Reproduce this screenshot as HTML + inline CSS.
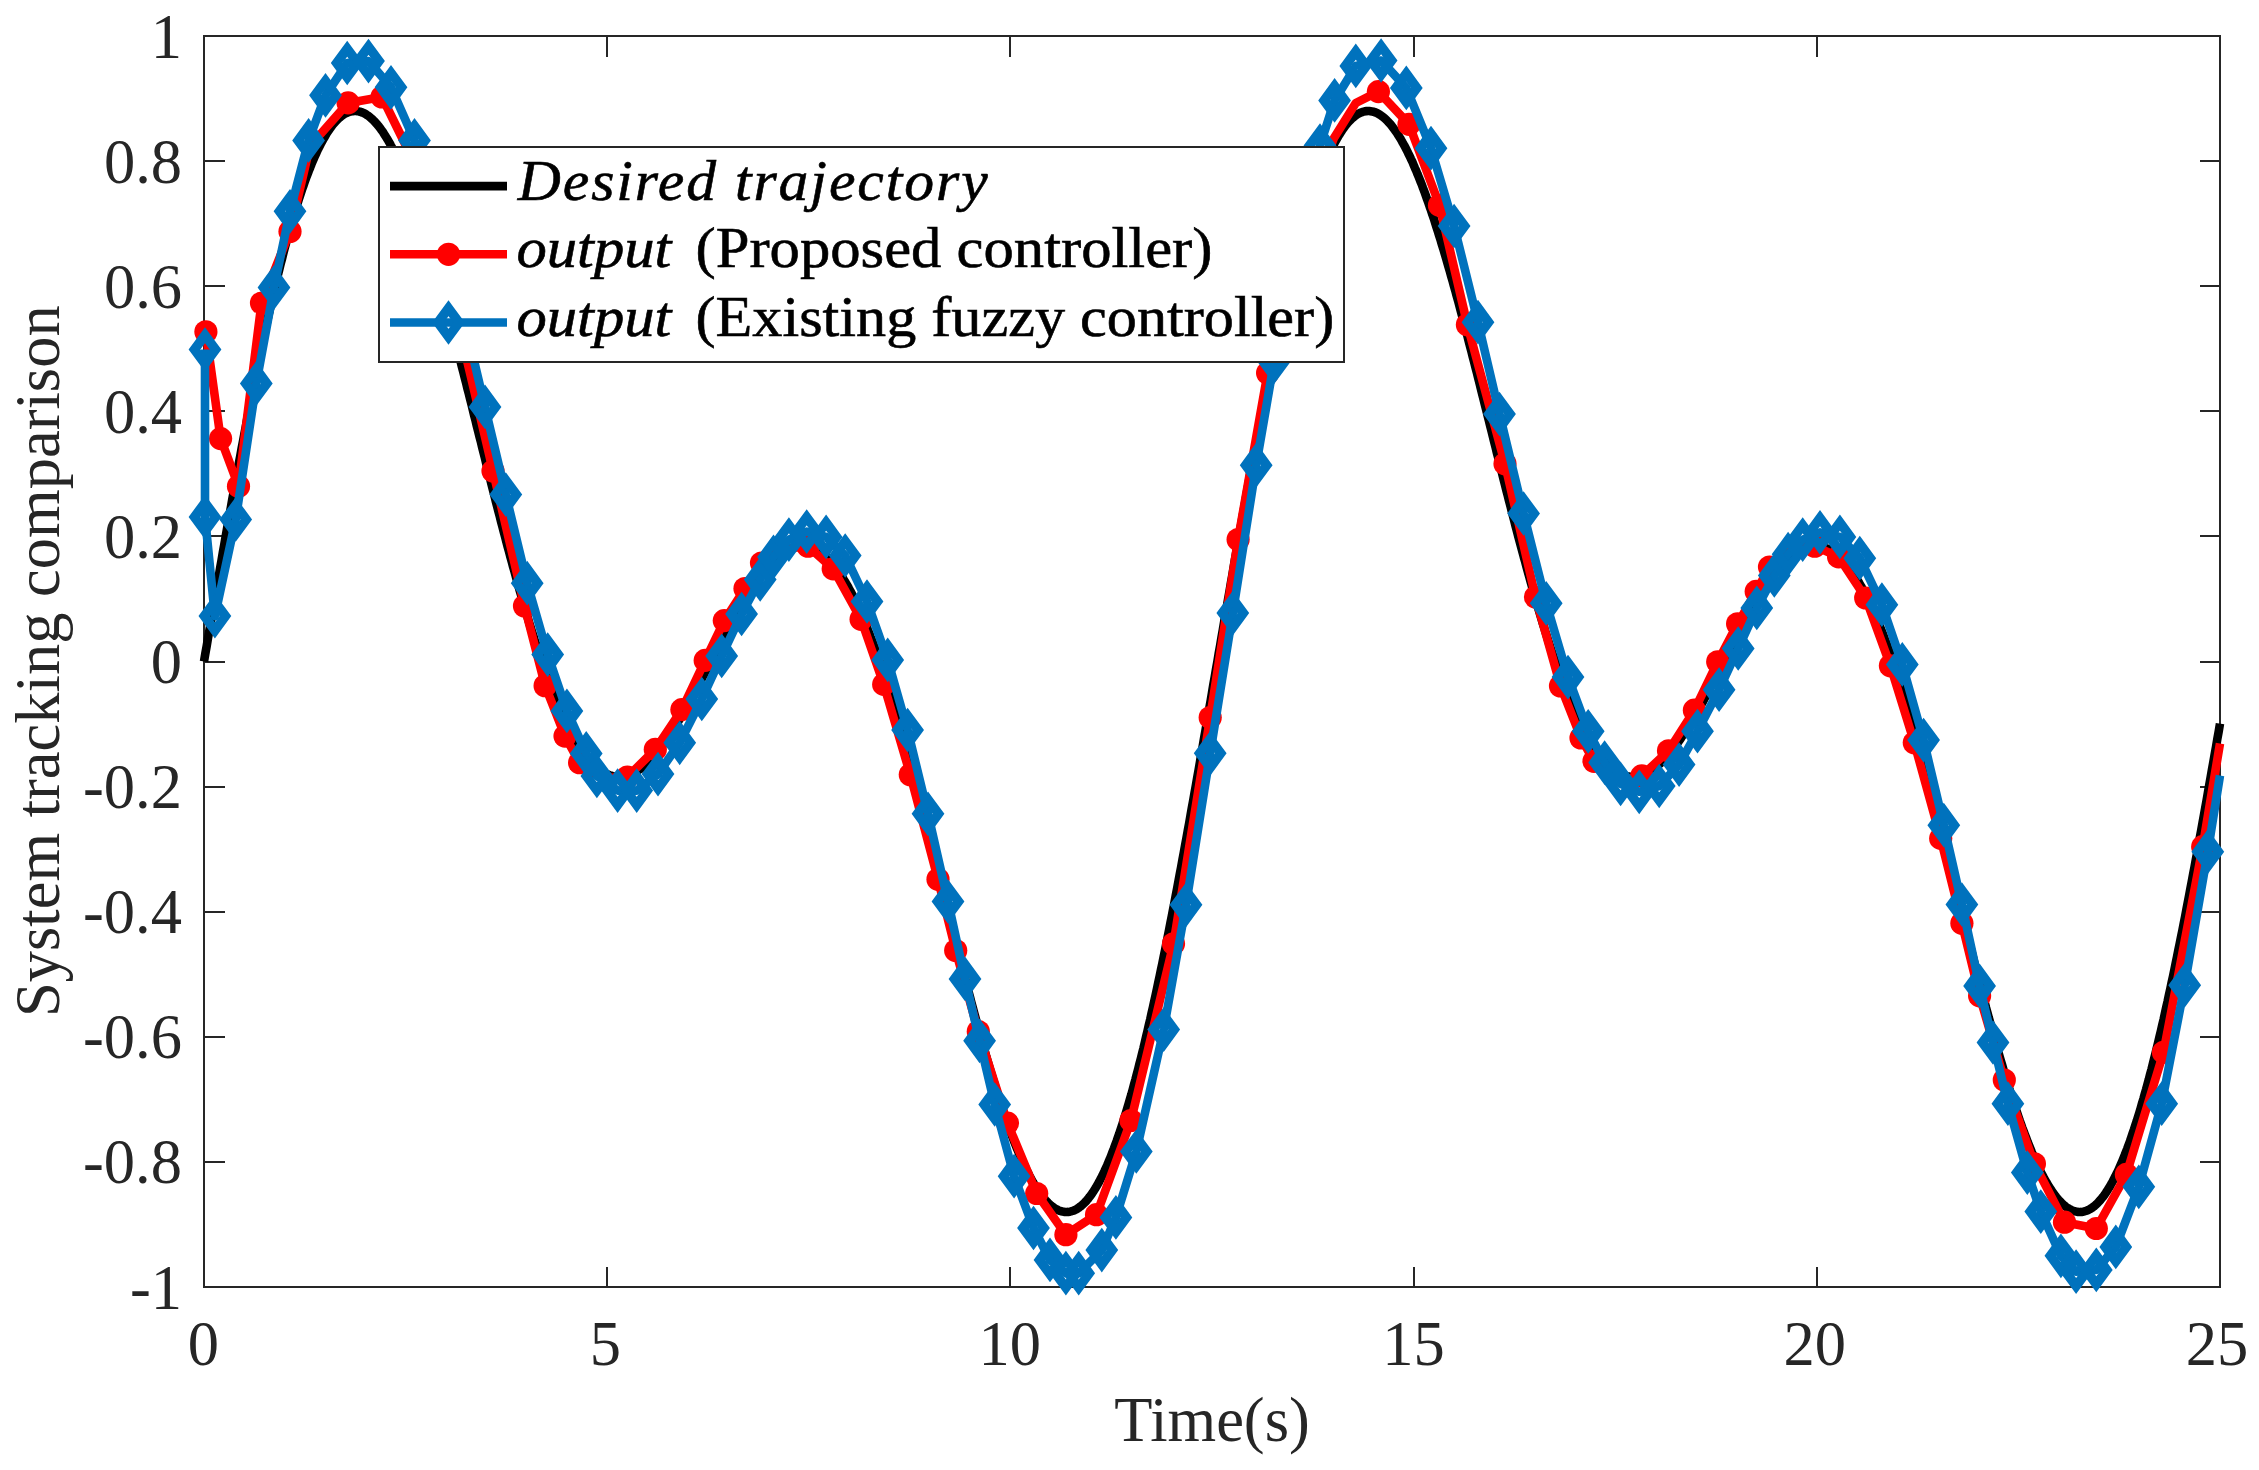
<!DOCTYPE html>
<html lang="en"><head><meta charset="utf-8"><title>System tracking comparison</title>
<style>html,body{margin:0;padding:0;background:#fff}svg{display:block}text{font-family:"Liberation Serif","Times New Roman",serif}</style></head><body>
<svg width="2259" height="1470" viewBox="0 0 2259 1470">
<rect width="2259" height="1470" fill="#fff"/>
<g stroke="#262626" stroke-width="2" fill="none" shape-rendering="crispEdges">
<rect x="204.0" y="36.0" width="2016.0" height="1251.0"/>
<path d="M607.2 1287.0v-20.5M607.2 36.0v20.5"/>
<path d="M1010.4 1287.0v-20.5M1010.4 36.0v20.5"/>
<path d="M1413.6 1287.0v-20.5M1413.6 36.0v20.5"/>
<path d="M1816.8 1287.0v-20.5M1816.8 36.0v20.5"/>
<path d="M204.0 1161.9h20.5M2220.0 1161.9h-20.5"/>
<path d="M204.0 1036.8h20.5M2220.0 1036.8h-20.5"/>
<path d="M204.0 911.7h20.5M2220.0 911.7h-20.5"/>
<path d="M204.0 786.6h20.5M2220.0 786.6h-20.5"/>
<path d="M204.0 661.5h20.5M2220.0 661.5h-20.5"/>
<path d="M204.0 536.4h20.5M2220.0 536.4h-20.5"/>
<path d="M204.0 411.3h20.5M2220.0 411.3h-20.5"/>
<path d="M204.0 286.2h20.5M2220.0 286.2h-20.5"/>
<path d="M204.0 161.1h20.5M2220.0 161.1h-20.5"/>
</g>
<polyline points="204.0,661.5 205.3,653.7 206.7,645.9 208.0,638.1 209.4,630.2 210.7,622.4 212.1,614.6 213.4,606.9 214.8,599.1 216.1,591.3 217.4,583.6 218.8,575.9 220.1,568.1 221.5,560.5 222.8,552.8 224.2,545.1 225.5,537.5 226.8,529.9 228.2,522.3 229.5,514.8 230.9,507.3 232.2,499.8 233.6,492.4 234.9,484.9 236.3,477.6 237.6,470.2 238.9,462.9 240.3,455.7 241.6,448.5 243.0,441.3 244.3,434.2 245.7,427.1 247.0,420.1 248.4,413.1 249.7,406.2 251.0,399.3 252.4,392.5 253.7,385.7 255.1,379.0 256.4,372.4 257.8,365.8 259.1,359.2 260.4,352.8 261.8,346.4 263.1,340.0 264.5,333.8 265.8,327.6 267.2,321.4 268.5,315.4 269.9,309.4 271.2,303.4 272.5,297.6 273.9,291.8 275.2,286.1 276.6,280.5 277.9,274.9 279.3,269.5 280.6,264.1 282.0,258.8 283.3,253.5 284.6,248.4 286.0,243.3 287.3,238.4 288.7,233.5 290.0,228.7 291.4,223.9 292.7,219.3 294.0,214.8 295.4,210.3 296.7,205.9 298.1,201.7 299.4,197.5 300.8,193.4 302.1,189.4 303.5,185.5 304.8,181.7 306.1,178.0 307.5,174.4 308.8,170.9 310.2,167.5 311.5,164.1 312.9,160.9 314.2,157.8 315.6,154.8 316.9,151.8 318.2,149.0 319.6,146.3 320.9,143.6 322.3,141.1 323.6,138.7 325.0,136.4 326.3,134.1 327.6,132.0 329.0,130.0 330.3,128.1 331.7,126.2 333.0,124.5 334.4,122.9 335.7,121.4 337.1,120.0 338.4,118.7 339.7,117.5 341.1,116.4 342.4,115.4 343.8,114.5 345.1,113.7 346.5,113.0 347.8,112.4 349.2,111.9 350.5,111.6 351.8,111.3 353.2,111.1 354.5,111.0 355.9,111.0 357.2,111.1 358.6,111.4 359.9,111.7 361.2,112.1 362.6,112.6 363.9,113.2 365.3,113.9 366.6,114.8 368.0,115.7 369.3,116.7 370.7,117.8 372.0,119.0 373.3,120.2 374.7,121.6 376.0,123.1 377.4,124.7 378.7,126.3 380.1,128.1 381.4,129.9 382.8,131.8 384.1,133.9 385.4,136.0 386.8,138.2 388.1,140.4 389.5,142.8 390.8,145.3 392.2,147.8 393.5,150.4 394.8,153.1 396.2,155.9 397.5,158.8 398.9,161.7 400.2,164.7 401.6,167.8 402.9,171.0 404.3,174.2 405.6,177.5 406.9,180.9 408.3,184.4 409.6,187.9 411.0,191.5 412.3,195.2 413.7,198.9 415.0,202.7 416.4,206.6 417.7,210.5 419.0,214.5 420.4,218.6 421.7,222.7 423.1,226.9 424.4,231.1 425.8,235.4 427.1,239.7 428.4,244.1 429.8,248.5 431.1,253.0 432.5,257.6 433.8,262.2 435.2,266.8 436.5,271.5 437.9,276.2 439.2,281.0 440.5,285.8 441.9,290.6 443.2,295.5 444.6,300.4 445.9,305.4 447.3,310.4 448.6,315.4 450.0,320.5 451.3,325.6 452.6,330.7 454.0,335.8 455.3,341.0 456.7,346.2 458.0,351.4 459.4,356.6 460.7,361.9 462.0,367.1 463.4,372.4 464.7,377.7 466.1,383.0 467.4,388.4 468.8,393.7 470.1,399.1 471.5,404.4 472.8,409.8 474.1,415.2 475.5,420.5 476.8,425.9 478.2,431.3 479.5,436.7 480.9,442.0 482.2,447.4 483.6,452.8 484.9,458.1 486.2,463.5 487.6,468.8 488.9,474.1 490.3,479.5 491.6,484.8 493.0,490.1 494.3,495.3 495.6,500.6 497.0,505.8 498.3,511.0 499.7,516.2 501.0,521.4 502.4,526.6 503.7,531.7 505.1,536.8 506.4,541.9 507.7,546.9 509.1,551.9 510.4,556.9 511.8,561.9 513.1,566.8 514.5,571.6 515.8,576.5 517.2,581.3 518.5,586.1 519.8,590.8 521.2,595.5 522.5,600.1 523.9,604.7 525.2,609.3 526.6,613.8 527.9,618.3 529.2,622.7 530.6,627.1 531.9,631.4 533.3,635.7 534.6,639.9 536.0,644.1 537.3,648.2 538.7,652.3 540.0,656.3 541.3,660.2 542.7,664.1 544.0,668.0 545.4,671.7 546.7,675.5 548.1,679.1 549.4,682.7 550.8,686.3 552.1,689.8 553.4,693.2 554.8,696.6 556.1,699.9 557.5,703.1 558.8,706.3 560.2,709.4 561.5,712.4 562.8,715.4 564.2,718.3 565.5,721.1 566.9,723.9 568.2,726.6 569.6,729.2 570.9,731.8 572.3,734.3 573.6,736.7 574.9,739.1 576.3,741.3 577.6,743.6 579.0,745.7 580.3,747.8 581.7,749.8 583.0,751.7 584.4,753.6 585.7,755.4 587.0,757.1 588.4,758.7 589.7,760.3 591.1,761.8 592.4,763.2 593.8,764.6 595.1,765.9 596.4,767.1 597.8,768.2 599.1,769.3 600.5,770.3 601.8,771.2 603.2,772.1 604.5,772.9 605.9,773.6 607.2,774.2 608.5,774.8 609.9,775.3 611.2,775.7 612.6,776.1 613.9,776.4 615.3,776.6 616.6,776.8 618.0,776.9 619.3,776.9 620.6,776.9 622.0,776.8 623.3,776.6 624.7,776.3 626.0,776.0 627.4,775.7 628.7,775.2 630.0,774.7 631.4,774.2 632.7,773.5 634.1,772.9 635.4,772.1 636.8,771.3 638.1,770.4 639.5,769.5 640.8,768.5 642.1,767.5 643.5,766.4 644.8,765.3 646.2,764.1 647.5,762.8 648.9,761.5 650.2,760.1 651.6,758.7 652.9,757.2 654.2,755.7 655.6,754.2 656.9,752.6 658.3,750.9 659.6,749.2 661.0,747.4 662.3,745.7 663.6,743.8 665.0,741.9 666.3,740.0 667.7,738.1 669.0,736.1 670.4,734.0 671.7,732.0 673.1,729.9 674.4,727.7 675.7,725.6 677.1,723.4 678.4,721.1 679.8,718.9 681.1,716.6 682.5,714.3 683.8,711.9 685.2,709.6 686.5,707.2 687.8,704.8 689.2,702.3 690.5,699.9 691.9,697.4 693.2,694.9 694.6,692.4 695.9,689.9 697.2,687.3 698.6,684.8 699.9,682.2 701.3,679.6 702.6,677.1 704.0,674.5 705.3,671.9 706.7,669.3 708.0,666.7 709.3,664.1 710.7,661.5 712.0,658.9 713.4,656.3 714.7,653.7 716.1,651.1 717.4,648.5 718.8,645.9 720.1,643.3 721.4,640.7 722.8,638.2 724.1,635.6 725.5,633.1 726.8,630.6 728.2,628.1 729.5,625.6 730.8,623.1 732.2,620.6 733.5,618.2 734.9,615.8 736.2,613.4 737.6,611.0 738.9,608.7 740.3,606.4 741.6,604.1 742.9,601.8 744.3,599.6 745.6,597.4 747.0,595.2 748.3,593.1 749.7,591.0 751.0,588.9 752.4,586.9 753.7,584.9 755.0,582.9 756.4,581.0 757.7,579.1 759.1,577.3 760.4,575.5 761.8,573.8 763.1,572.1 764.4,570.4 765.8,568.8 767.1,567.2 768.5,565.7 769.8,564.3 771.2,562.9 772.5,561.5 773.9,560.2 775.2,558.9 776.5,557.7 777.9,556.6 779.2,555.5 780.6,554.4 781.9,553.5 783.3,552.5 784.6,551.7 786.0,550.9 787.3,550.1 788.6,549.4 790.0,548.8 791.3,548.3 792.7,547.8 794.0,547.3 795.4,547.0 796.7,546.7 798.0,546.4 799.4,546.2 800.7,546.1 802.1,546.1 803.4,546.1 804.8,546.2 806.1,546.4 807.5,546.6 808.8,546.9 810.1,547.3 811.5,547.7 812.8,548.2 814.2,548.8 815.5,549.4 816.9,550.1 818.2,550.9 819.6,551.8 820.9,552.7 822.2,553.7 823.6,554.8 824.9,555.9 826.3,557.1 827.6,558.4 829.0,559.8 830.3,561.2 831.6,562.7 833.0,564.3 834.3,566.0 835.7,567.7 837.0,569.5 838.4,571.3 839.7,573.3 841.1,575.3 842.4,577.3 843.7,579.5 845.1,581.7 846.4,584.0 847.8,586.3 849.1,588.8 850.5,591.3 851.8,593.8 853.2,596.5 854.5,599.2 855.8,601.9 857.2,604.8 858.5,607.7 859.9,610.7 861.2,613.7 862.6,616.8 863.9,620.0 865.2,623.2 866.6,626.5 867.9,629.9 869.3,633.3 870.6,636.8 872.0,640.3 873.3,643.9 874.7,647.6 876.0,651.3 877.3,655.1 878.7,659.0 880.0,662.9 881.4,666.8 882.7,670.8 884.1,674.9 885.4,679.0 886.8,683.2 888.1,687.4 889.4,691.7 890.8,696.0 892.1,700.4 893.5,704.8 894.8,709.3 896.2,713.8 897.5,718.3 898.8,723.0 900.2,727.6 901.5,732.3 902.9,737.0 904.2,741.8 905.6,746.6 906.9,751.4 908.3,756.3 909.6,761.2 910.9,766.2 912.3,771.2 913.6,776.2 915.0,781.2 916.3,786.3 917.7,791.4 919.0,796.5 920.4,801.7 921.7,806.9 923.0,812.0 924.4,817.3 925.7,822.5 927.1,827.8 928.4,833.0 929.8,838.3 931.1,843.6 932.4,849.0 933.8,854.3 935.1,859.6 936.5,865.0 937.8,870.3 939.2,875.7 940.5,881.1 941.9,886.4 943.2,891.8 944.5,897.2 945.9,902.6 947.2,907.9 948.6,913.3 949.9,918.7 951.3,924.0 952.6,929.4 954.0,934.7 955.3,940.0 956.6,945.4 958.0,950.7 959.3,956.0 960.7,961.2 962.0,966.5 963.4,971.7 964.7,976.9 966.0,982.1 967.4,987.3 968.7,992.4 970.1,997.5 971.4,1002.6 972.8,1007.7 974.1,1012.7 975.5,1017.7 976.8,1022.6 978.1,1027.6 979.5,1032.5 980.8,1037.3 982.2,1042.1 983.5,1046.9 984.9,1051.6 986.2,1056.3 987.6,1060.9 988.9,1065.5 990.2,1070.1 991.6,1074.5 992.9,1079.0 994.3,1083.4 995.6,1087.7 997.0,1092.0 998.3,1096.2 999.6,1100.4 1001.0,1104.5 1002.3,1108.6 1003.7,1112.5 1005.0,1116.5 1006.4,1120.3 1007.7,1124.1 1009.1,1127.9 1010.4,1131.5 1011.7,1135.1 1013.1,1138.7 1014.4,1142.1 1015.8,1145.5 1017.1,1148.8 1018.5,1152.1 1019.8,1155.3 1021.2,1158.3 1022.5,1161.4 1023.8,1164.3 1025.2,1167.2 1026.5,1169.9 1027.9,1172.6 1029.2,1175.2 1030.6,1177.8 1031.9,1180.2 1033.2,1182.6 1034.6,1184.9 1035.9,1187.1 1037.3,1189.2 1038.6,1191.2 1040.0,1193.1 1041.3,1195.0 1042.7,1196.7 1044.0,1198.4 1045.3,1199.9 1046.7,1201.4 1048.0,1202.8 1049.4,1204.1 1050.7,1205.3 1052.1,1206.4 1053.4,1207.4 1054.8,1208.3 1056.1,1209.1 1057.4,1209.8 1058.8,1210.4 1060.1,1210.9 1061.5,1211.3 1062.8,1211.6 1064.2,1211.9 1065.5,1212.0 1066.8,1212.0 1068.2,1211.9 1069.5,1211.7 1070.9,1211.4 1072.2,1211.0 1073.6,1210.6 1074.9,1210.0 1076.3,1209.3 1077.6,1208.5 1078.9,1207.6 1080.3,1206.6 1081.6,1205.5 1083.0,1204.3 1084.3,1203.0 1085.7,1201.6 1087.0,1200.1 1088.4,1198.4 1089.7,1196.7 1091.0,1194.9 1092.4,1193.0 1093.7,1191.0 1095.1,1188.8 1096.4,1186.6 1097.8,1184.3 1099.1,1181.9 1100.4,1179.3 1101.8,1176.7 1103.1,1174.0 1104.5,1171.1 1105.8,1168.2 1107.2,1165.2 1108.5,1162.0 1109.9,1158.8 1111.2,1155.5 1112.5,1152.1 1113.9,1148.5 1115.2,1144.9 1116.6,1141.2 1117.9,1137.4 1119.3,1133.5 1120.6,1129.5 1122.0,1125.4 1123.3,1121.2 1124.6,1117.0 1126.0,1112.6 1127.3,1108.2 1128.7,1103.6 1130.0,1099.0 1131.4,1094.3 1132.7,1089.5 1134.0,1084.6 1135.4,1079.6 1136.7,1074.5 1138.1,1069.4 1139.4,1064.1 1140.8,1058.8 1142.1,1053.4 1143.5,1048.0 1144.8,1042.4 1146.1,1036.8 1147.5,1031.1 1148.8,1025.3 1150.2,1019.5 1151.5,1013.5 1152.9,1007.5 1154.2,1001.5 1155.6,995.3 1156.9,989.1 1158.2,982.8 1159.6,976.5 1160.9,970.1 1162.3,963.6 1163.6,957.1 1165.0,950.5 1166.3,943.9 1167.6,937.2 1169.0,930.4 1170.3,923.6 1171.7,916.7 1173.0,909.8 1174.4,902.8 1175.7,895.8 1177.1,888.7 1178.4,881.6 1179.7,874.4 1181.1,867.2 1182.4,859.9 1183.8,852.6 1185.1,845.3 1186.5,837.9 1187.8,830.5 1189.2,823.1 1190.5,815.6 1191.8,808.1 1193.2,800.5 1194.5,793.0 1195.9,785.4 1197.2,777.7 1198.6,770.1 1199.9,762.4 1201.2,754.7 1202.6,747.0 1203.9,739.3 1205.3,731.5 1206.6,723.8 1208.0,716.0 1209.3,708.2 1210.7,700.4 1212.0,692.6 1213.3,684.8 1214.7,677.0 1216.0,669.2 1217.4,661.4 1218.7,653.5 1220.1,645.7 1221.4,637.9 1222.8,630.1 1224.1,622.3 1225.4,614.5 1226.8,606.7 1228.1,599.0 1229.5,591.2 1230.8,583.4 1232.2,575.7 1233.5,568.0 1234.8,560.3 1236.2,552.6 1237.5,545.0 1238.9,537.4 1240.2,529.8 1241.6,522.2 1242.9,514.7 1244.3,507.2 1245.6,499.7 1246.9,492.2 1248.3,484.8 1249.6,477.4 1251.0,470.1 1252.3,462.8 1253.7,455.6 1255.0,448.3 1256.4,441.2 1257.7,434.1 1259.0,427.0 1260.4,420.0 1261.7,413.0 1263.1,406.1 1264.4,399.2 1265.8,392.4 1267.1,385.6 1268.4,378.9 1269.8,372.2 1271.1,365.7 1272.5,359.1 1273.8,352.7 1275.2,346.3 1276.5,339.9 1277.9,333.7 1279.2,327.5 1280.5,321.3 1281.9,315.2 1283.2,309.3 1284.6,303.3 1285.9,297.5 1287.3,291.7 1288.6,286.0 1290.0,280.4 1291.3,274.8 1292.6,269.4 1294.0,264.0 1295.3,258.7 1296.7,253.4 1298.0,248.3 1299.4,243.2 1300.7,238.3 1302.0,233.4 1303.4,228.6 1304.7,223.9 1306.1,219.2 1307.4,214.7 1308.8,210.2 1310.1,205.9 1311.5,201.6 1312.8,197.4 1314.1,193.3 1315.5,189.3 1316.8,185.5 1318.2,181.6 1319.5,177.9 1320.9,174.3 1322.2,170.8 1323.6,167.4 1324.9,164.1 1326.2,160.8 1327.6,157.7 1328.9,154.7 1330.3,151.8 1331.6,148.9 1333.0,146.2 1334.3,143.6 1335.6,141.1 1337.0,138.6 1338.3,136.3 1339.7,134.1 1341.0,132.0 1342.4,129.9 1343.7,128.0 1345.1,126.2 1346.4,124.5 1347.7,122.9 1349.1,121.4 1350.4,120.0 1351.8,118.7 1353.1,117.5 1354.5,116.4 1355.8,115.4 1357.2,114.5 1358.5,113.7 1359.8,113.0 1361.2,112.4 1362.5,111.9 1363.9,111.6 1365.2,111.3 1366.6,111.1 1367.9,111.0 1369.2,111.0 1370.6,111.2 1371.9,111.4 1373.3,111.7 1374.6,112.1 1376.0,112.6 1377.3,113.2 1378.7,114.0 1380.0,114.8 1381.3,115.7 1382.7,116.7 1384.0,117.8 1385.4,119.0 1386.7,120.3 1388.1,121.7 1389.4,123.1 1390.8,124.7 1392.1,126.4 1393.4,128.1 1394.8,130.0 1396.1,131.9 1397.5,133.9 1398.8,136.0 1400.2,138.2 1401.5,140.5 1402.8,142.9 1404.2,145.3 1405.5,147.8 1406.9,150.5 1408.2,153.2 1409.6,155.9 1410.9,158.8 1412.3,161.7 1413.6,164.8 1414.9,167.9 1416.3,171.0 1417.6,174.3 1419.0,177.6 1420.3,181.0 1421.7,184.4 1423.0,188.0 1424.4,191.6 1425.7,195.3 1427.0,199.0 1428.4,202.8 1429.7,206.7 1431.1,210.6 1432.4,214.6 1433.8,218.6 1435.1,222.8 1436.4,226.9 1437.8,231.2 1439.1,235.4 1440.5,239.8 1441.8,244.2 1443.2,248.6 1444.5,253.1 1445.9,257.7 1447.2,262.2 1448.5,266.9 1449.9,271.6 1451.2,276.3 1452.6,281.1 1453.9,285.9 1455.3,290.7 1456.6,295.6 1458.0,300.5 1459.3,305.5 1460.6,310.5 1462.0,315.5 1463.3,320.6 1464.7,325.6 1466.0,330.8 1467.4,335.9 1468.7,341.1 1470.0,346.3 1471.4,351.5 1472.7,356.7 1474.1,362.0 1475.4,367.2 1476.8,372.5 1478.1,377.8 1479.5,383.1 1480.8,388.5 1482.1,393.8 1483.5,399.2 1484.8,404.5 1486.2,409.9 1487.5,415.3 1488.9,420.6 1490.2,426.0 1491.6,431.4 1492.9,436.7 1494.2,442.1 1495.6,447.5 1496.9,452.9 1498.3,458.2 1499.6,463.6 1501.0,468.9 1502.3,474.2 1503.6,479.6 1505.0,484.9 1506.3,490.1 1507.7,495.4 1509.0,500.7 1510.4,505.9 1511.7,511.1 1513.1,516.3 1514.4,521.5 1515.7,526.7 1517.1,531.8 1518.4,536.9 1519.8,542.0 1521.1,547.0 1522.5,552.0 1523.8,557.0 1525.2,561.9 1526.5,566.9 1527.8,571.7 1529.2,576.6 1530.5,581.4 1531.9,586.2 1533.2,590.9 1534.6,595.6 1535.9,600.2 1537.2,604.8 1538.6,609.4 1539.9,613.9 1541.3,618.4 1542.6,622.8 1544.0,627.1 1545.3,631.5 1546.7,635.7 1548.0,640.0 1549.3,644.1 1550.7,648.3 1552.0,652.3 1553.4,656.3 1554.7,660.3 1556.1,664.2 1557.4,668.0 1558.8,671.8 1560.1,675.5 1561.4,679.2 1562.8,682.8 1564.1,686.4 1565.5,689.8 1566.8,693.3 1568.2,696.6 1569.5,699.9 1570.8,703.1 1572.2,706.3 1573.5,709.4 1574.9,712.5 1576.2,715.4 1577.6,718.3 1578.9,721.2 1580.3,723.9 1581.6,726.6 1582.9,729.3 1584.3,731.8 1585.6,734.3 1587.0,736.7 1588.3,739.1 1589.7,741.4 1591.0,743.6 1592.4,745.7 1593.7,747.8 1595.0,749.8 1596.4,751.7 1597.7,753.6 1599.1,755.4 1600.4,757.1 1601.8,758.8 1603.1,760.3 1604.4,761.8 1605.8,763.3 1607.1,764.6 1608.5,765.9 1609.8,767.1 1611.2,768.2 1612.5,769.3 1613.9,770.3 1615.2,771.2 1616.5,772.1 1617.9,772.9 1619.2,773.6 1620.6,774.2 1621.9,774.8 1623.3,775.3 1624.6,775.8 1626.0,776.1 1627.3,776.4 1628.6,776.6 1630.0,776.8 1631.3,776.9 1632.7,776.9 1634.0,776.9 1635.4,776.8 1636.7,776.6 1638.0,776.3 1639.4,776.0 1640.7,775.7 1642.1,775.2 1643.4,774.7 1644.8,774.2 1646.1,773.5 1647.5,772.8 1648.8,772.1 1650.1,771.3 1651.5,770.4 1652.8,769.5 1654.2,768.5 1655.5,767.5 1656.9,766.4 1658.2,765.2 1659.6,764.0 1660.9,762.8 1662.2,761.5 1663.6,760.1 1664.9,758.7 1666.3,757.2 1667.6,755.7 1669.0,754.1 1670.3,752.5 1671.6,750.9 1673.0,749.2 1674.3,747.4 1675.7,745.6 1677.0,743.8 1678.4,741.9 1679.7,740.0 1681.1,738.0 1682.4,736.0 1683.7,734.0 1685.1,731.9 1686.4,729.8 1687.8,727.7 1689.1,725.5 1690.5,723.3 1691.8,721.1 1693.2,718.8 1694.5,716.5 1695.8,714.2 1697.2,711.9 1698.5,709.5 1699.9,707.1 1701.2,704.7 1702.6,702.3 1703.9,699.8 1705.2,697.3 1706.6,694.9 1707.9,692.3 1709.3,689.8 1710.6,687.3 1712.0,684.7 1713.3,682.2 1714.7,679.6 1716.0,677.0 1717.3,674.4 1718.7,671.8 1720.0,669.2 1721.4,666.6 1722.7,664.0 1724.1,661.4 1725.4,658.8 1726.8,656.2 1728.1,653.6 1729.4,651.0 1730.8,648.4 1732.1,645.8 1733.5,643.3 1734.8,640.7 1736.2,638.1 1737.5,635.6 1738.8,633.0 1740.2,630.5 1741.5,628.0 1742.9,625.5 1744.2,623.1 1745.6,620.6 1746.9,618.2 1748.3,615.7 1749.6,613.4 1750.9,611.0 1752.3,608.6 1753.6,606.3 1755.0,604.0 1756.3,601.8 1757.7,599.6 1759.0,597.4 1760.4,595.2 1761.7,593.0 1763.0,590.9 1764.4,588.9 1765.7,586.9 1767.1,584.9 1768.4,582.9 1769.8,581.0 1771.1,579.1 1772.4,577.3 1773.8,575.5 1775.1,573.7 1776.5,572.0 1777.8,570.4 1779.2,568.8 1780.5,567.2 1781.9,565.7 1783.2,564.2 1784.5,562.8 1785.9,561.5 1787.2,560.2 1788.6,558.9 1789.9,557.7 1791.3,556.6 1792.6,555.5 1794.0,554.4 1795.3,553.4 1796.6,552.5 1798.0,551.7 1799.3,550.9 1800.7,550.1 1802.0,549.4 1803.4,548.8 1804.7,548.3 1806.0,547.8 1807.4,547.3 1808.7,547.0 1810.1,546.7 1811.4,546.4 1812.8,546.2 1814.1,546.1 1815.5,546.1 1816.8,546.1 1818.1,546.2 1819.5,546.4 1820.8,546.6 1822.2,546.9 1823.5,547.3 1824.9,547.7 1826.2,548.2 1827.6,548.8 1828.9,549.4 1830.2,550.2 1831.6,550.9 1832.9,551.8 1834.3,552.7 1835.6,553.7 1837.0,554.8 1838.3,556.0 1839.6,557.2 1841.0,558.5 1842.3,559.8 1843.7,561.3 1845.0,562.8 1846.4,564.3 1847.7,566.0 1849.1,567.7 1850.4,569.5 1851.7,571.4 1853.1,573.3 1854.4,575.3 1855.8,577.4 1857.1,579.5 1858.5,581.7 1859.8,584.0 1861.2,586.4 1862.5,588.8 1863.8,591.3 1865.2,593.9 1866.5,596.5 1867.9,599.2 1869.2,602.0 1870.6,604.8 1871.9,607.7 1873.2,610.7 1874.6,613.7 1875.9,616.9 1877.3,620.0 1878.6,623.3 1880.0,626.6 1881.3,629.9 1882.7,633.3 1884.0,636.8 1885.3,640.4 1886.7,644.0 1888.0,647.7 1889.4,651.4 1890.7,655.2 1892.1,659.0 1893.4,662.9 1894.8,666.9 1896.1,670.9 1897.4,675.0 1898.8,679.1 1900.1,683.3 1901.5,687.5 1902.8,691.8 1904.2,696.1 1905.5,700.5 1906.8,704.9 1908.2,709.4 1909.5,713.9 1910.9,718.4 1912.2,723.0 1913.6,727.7 1914.9,732.4 1916.3,737.1 1917.6,741.9 1918.9,746.7 1920.3,751.5 1921.6,756.4 1923.0,761.3 1924.3,766.3 1925.7,771.3 1927.0,776.3 1928.4,781.3 1929.7,786.4 1931.0,791.5 1932.4,796.6 1933.7,801.8 1935.1,806.9 1936.4,812.1 1937.8,817.4 1939.1,822.6 1940.4,827.9 1941.8,833.1 1943.1,838.4 1944.5,843.7 1945.8,849.1 1947.2,854.4 1948.5,859.7 1949.9,865.1 1951.2,870.4 1952.5,875.8 1953.9,881.2 1955.2,886.5 1956.6,891.9 1957.9,897.3 1959.3,902.7 1960.6,908.0 1962.0,913.4 1963.3,918.8 1964.6,924.1 1966.0,929.5 1967.3,934.8 1968.7,940.1 1970.0,945.5 1971.4,950.8 1972.7,956.0 1974.0,961.3 1975.4,966.6 1976.7,971.8 1978.1,977.0 1979.4,982.2 1980.8,987.4 1982.1,992.5 1983.5,997.6 1984.8,1002.7 1986.1,1007.8 1987.5,1012.8 1988.8,1017.8 1990.2,1022.7 1991.5,1027.7 1992.9,1032.5 1994.2,1037.4 1995.6,1042.2 1996.9,1047.0 1998.2,1051.7 1999.6,1056.4 2000.9,1061.0 2002.3,1065.6 2003.6,1070.1 2005.0,1074.6 2006.3,1079.1 2007.6,1083.5 2009.0,1087.8 2010.3,1092.1 2011.7,1096.3 2013.0,1100.5 2014.4,1104.6 2015.7,1108.6 2017.1,1112.6 2018.4,1116.5 2019.7,1120.4 2021.1,1124.2 2022.4,1127.9 2023.8,1131.6 2025.1,1135.2 2026.5,1138.7 2027.8,1142.2 2029.2,1145.6 2030.5,1148.9 2031.8,1152.1 2033.2,1155.3 2034.5,1158.4 2035.9,1161.4 2037.2,1164.3 2038.6,1167.2 2039.9,1170.0 2041.2,1172.7 2042.6,1175.3 2043.9,1177.8 2045.3,1180.3 2046.6,1182.6 2048.0,1184.9 2049.3,1187.1 2050.7,1189.2 2052.0,1191.2 2053.3,1193.1 2054.7,1195.0 2056.0,1196.7 2057.4,1198.4 2058.7,1200.0 2060.1,1201.4 2061.4,1202.8 2062.8,1204.1 2064.1,1205.3 2065.4,1206.4 2066.8,1207.4 2068.1,1208.3 2069.5,1209.1 2070.8,1209.8 2072.2,1210.4 2073.5,1210.9 2074.8,1211.3 2076.2,1211.6 2077.5,1211.9 2078.9,1212.0 2080.2,1212.0 2081.6,1211.9 2082.9,1211.7 2084.3,1211.4 2085.6,1211.0 2086.9,1210.6 2088.3,1210.0 2089.6,1209.3 2091.0,1208.5 2092.3,1207.6 2093.7,1206.6 2095.0,1205.5 2096.4,1204.3 2097.7,1203.0 2099.0,1201.5 2100.4,1200.0 2101.7,1198.4 2103.1,1196.7 2104.4,1194.9 2105.8,1192.9 2107.1,1190.9 2108.4,1188.8 2109.8,1186.6 2111.1,1184.2 2112.5,1181.8 2113.8,1179.3 2115.2,1176.6 2116.5,1173.9 2117.9,1171.1 2119.2,1168.1 2120.5,1165.1 2121.9,1162.0 2123.2,1158.8 2124.6,1155.4 2125.9,1152.0 2127.3,1148.5 2128.6,1144.9 2130.0,1141.2 2131.3,1137.3 2132.6,1133.4 2134.0,1129.4 2135.3,1125.4 2136.7,1121.2 2138.0,1116.9 2139.4,1112.5 2140.7,1108.1 2142.0,1103.5 2143.4,1098.9 2144.7,1094.2 2146.1,1089.4 2147.4,1084.5 2148.8,1079.5 2150.1,1074.4 2151.5,1069.3 2152.8,1064.1 2154.1,1058.7 2155.5,1053.3 2156.8,1047.9 2158.2,1042.3 2159.5,1036.7 2160.9,1031.0 2162.2,1025.2 2163.6,1019.4 2164.9,1013.4 2166.2,1007.4 2167.6,1001.4 2168.9,995.2 2170.3,989.0 2171.6,982.7 2173.0,976.4 2174.3,970.0 2175.6,963.5 2177.0,957.0 2178.3,950.4 2179.7,943.7 2181.0,937.0 2182.4,930.3 2183.7,923.5 2185.1,916.6 2186.4,909.6 2187.7,902.7 2189.1,895.6 2190.4,888.6 2191.8,881.4 2193.1,874.3 2194.5,867.1 2195.8,859.8 2197.2,852.5 2198.5,845.2 2199.8,837.8 2201.2,830.4 2202.5,822.9 2203.9,815.4 2205.2,807.9 2206.6,800.4 2207.9,792.8 2209.2,785.2 2210.6,777.6 2211.9,769.9 2213.3,762.3 2214.6,754.6 2216.0,746.9 2217.3,739.1 2218.7,731.4 2220.0,723.6" fill="none" stroke="#000" stroke-width="8.6" stroke-linejoin="round"/>
<polyline points="205.9,331.8 220.6,438.6 238.5,486.2 261.5,303.0 290.0,231.5 310.0,146.0 348.1,102.9 382.0,97.0 409.0,152.0 425.0,204.8 449.5,287.4 470.5,375.0 493.0,471.0 524.5,606.0 545.1,685.7 565.0,736.1 579.6,762.7 601.0,778.0 627.4,777.0 655.3,749.4 681.9,709.6 705.2,660.4 724.3,620.6 745.0,588.5 761.5,563.0 783.0,549.0 808.0,546.2 833.2,568.8 861.1,619.3 883.7,684.4 910.3,774.7 938.0,879.3 955.7,950.5 978.3,1031.5 1007.5,1123.1 1036.7,1193.5 1065.9,1234.7 1096.5,1214.7 1131.0,1120.5 1173.5,943.8 1210.2,717.5 1238.1,539.5 1267.6,373.0 1290.0,272.0 1312.0,193.0 1334.0,138.0 1355.8,103.0 1378.4,91.6 1409.0,124.3 1439.5,205.3 1467.4,324.8 1505.0,463.8 1535.5,597.0 1560.5,686.0 1581.0,738.0 1594.0,761.3 1617.0,781.0 1641.8,775.9 1668.5,750.8 1694.4,710.2 1717.7,661.8 1737.6,623.8 1756.2,591.4 1769.5,567.0 1792.0,550.0 1814.7,546.2 1838.6,556.9 1865.7,598.0 1890.4,665.8 1914.3,742.8 1940.7,838.4 1961.9,923.3 1979.6,995.8 2004.3,1080.0 2034.4,1163.8 2064.5,1222.2 2096.3,1228.5 2126.4,1174.4 2163.5,1052.4 2202.7,846.7 2220.0,743.5" fill="none" stroke="#FF0000" stroke-width="8.6" stroke-linejoin="round"/>
<g fill="#FF0000">
<circle cx="205.9" cy="331.8" r="11.6"/>
<circle cx="220.6" cy="438.6" r="11.6"/>
<circle cx="238.5" cy="486.2" r="11.6"/>
<circle cx="261.5" cy="303.0" r="11.6"/>
<circle cx="290.0" cy="231.5" r="11.6"/>
<circle cx="348.1" cy="102.9" r="11.6"/>
<circle cx="382.0" cy="97.0" r="11.6"/>
<circle cx="493.0" cy="471.0" r="11.6"/>
<circle cx="524.5" cy="606.0" r="11.6"/>
<circle cx="545.1" cy="685.7" r="11.6"/>
<circle cx="565.0" cy="736.1" r="11.6"/>
<circle cx="579.6" cy="762.7" r="11.6"/>
<circle cx="627.4" cy="777.0" r="11.6"/>
<circle cx="655.3" cy="749.4" r="11.6"/>
<circle cx="681.9" cy="709.6" r="11.6"/>
<circle cx="705.2" cy="660.4" r="11.6"/>
<circle cx="724.3" cy="620.6" r="11.6"/>
<circle cx="745.0" cy="588.5" r="11.6"/>
<circle cx="761.5" cy="563.0" r="11.6"/>
<circle cx="808.0" cy="546.2" r="11.6"/>
<circle cx="833.2" cy="568.8" r="11.6"/>
<circle cx="861.1" cy="619.3" r="11.6"/>
<circle cx="883.7" cy="684.4" r="11.6"/>
<circle cx="910.3" cy="774.7" r="11.6"/>
<circle cx="938.0" cy="879.3" r="11.6"/>
<circle cx="955.7" cy="950.5" r="11.6"/>
<circle cx="978.3" cy="1031.5" r="11.6"/>
<circle cx="1007.5" cy="1123.1" r="11.6"/>
<circle cx="1036.7" cy="1193.5" r="11.6"/>
<circle cx="1065.9" cy="1234.7" r="11.6"/>
<circle cx="1096.5" cy="1214.7" r="11.6"/>
<circle cx="1131.0" cy="1120.5" r="11.6"/>
<circle cx="1173.5" cy="943.8" r="11.6"/>
<circle cx="1210.2" cy="717.5" r="11.6"/>
<circle cx="1238.1" cy="539.5" r="11.6"/>
<circle cx="1267.6" cy="373.0" r="11.6"/>
<circle cx="1378.4" cy="91.6" r="11.6"/>
<circle cx="1409.0" cy="124.3" r="11.6"/>
<circle cx="1439.5" cy="205.3" r="11.6"/>
<circle cx="1467.4" cy="324.8" r="11.6"/>
<circle cx="1505.0" cy="463.8" r="11.6"/>
<circle cx="1535.5" cy="597.0" r="11.6"/>
<circle cx="1560.5" cy="686.0" r="11.6"/>
<circle cx="1581.0" cy="738.0" r="11.6"/>
<circle cx="1594.0" cy="761.3" r="11.6"/>
<circle cx="1641.8" cy="775.9" r="11.6"/>
<circle cx="1668.5" cy="750.8" r="11.6"/>
<circle cx="1694.4" cy="710.2" r="11.6"/>
<circle cx="1717.7" cy="661.8" r="11.6"/>
<circle cx="1737.6" cy="623.8" r="11.6"/>
<circle cx="1756.2" cy="591.4" r="11.6"/>
<circle cx="1769.5" cy="567.0" r="11.6"/>
<circle cx="1814.7" cy="546.2" r="11.6"/>
<circle cx="1838.6" cy="556.9" r="11.6"/>
<circle cx="1865.7" cy="598.0" r="11.6"/>
<circle cx="1890.4" cy="665.8" r="11.6"/>
<circle cx="1914.3" cy="742.8" r="11.6"/>
<circle cx="1940.7" cy="838.4" r="11.6"/>
<circle cx="1961.9" cy="923.3" r="11.6"/>
<circle cx="1979.6" cy="995.8" r="11.6"/>
<circle cx="2004.3" cy="1080.0" r="11.6"/>
<circle cx="2034.4" cy="1163.8" r="11.6"/>
<circle cx="2064.5" cy="1222.2" r="11.6"/>
<circle cx="2096.3" cy="1228.5" r="11.6"/>
<circle cx="2126.4" cy="1174.4" r="11.6"/>
<circle cx="2163.5" cy="1052.4" r="11.6"/>
<circle cx="2202.7" cy="846.7" r="11.6"/>
</g>
<polyline points="205.0,349.5 205.0,517.0 214.9,616.1 235.7,519.5 256.3,383.4 274.0,287.4 290.0,211.3 308.6,140.4 325.5,95.3 347.2,63.0 368.5,61.1 391.0,87.3 414.5,140.4 438.0,213.6 461.0,305.6 485.0,406.9 505.8,494.6 527.2,583.2 547.7,654.6 566.9,710.9 586.2,753.4 596.9,776.0 617.6,790.6 636.7,790.6 658.0,774.1 679.7,742.8 701.8,699.0 721.7,655.9 741.6,614.0 760.2,579.4 773.5,556.9 788.9,539.6 806.7,531.6 826.1,536.9 845.2,555.5 867.0,601.5 887.7,659.9 907.6,730.0 928.0,813.8 948.0,901.5 965.0,978.9 979.6,1040.8 994.7,1104.5 1014.1,1176.2 1033.5,1228.0 1050.0,1259.9 1065.9,1273.2 1078.7,1273.2 1101.8,1250.1 1115.9,1217.4 1136.3,1151.5 1163.7,1029.6 1186.0,904.8 1210.2,753.3 1232.8,613.1 1256.2,465.2 1274.0,362.0 1296.0,248.0 1320.0,145.5 1334.6,100.4 1355.8,65.9 1381.1,60.5 1406.3,87.9 1431.0,148.2 1454.1,226.0 1478.0,322.2 1499.5,414.0 1523.6,513.5 1546.2,603.3 1568.0,677.1 1588.2,731.3 1604.6,762.6 1620.6,783.9 1639.2,791.8 1659.2,786.0 1679.1,764.6 1697.5,731.2 1719.1,689.7 1738.2,648.5 1756.8,607.9 1774.3,575.5 1788.1,554.2 1802.7,539.6 1820.0,532.4 1839.9,536.9 1859.8,558.2 1881.9,604.7 1902.3,664.4 1923.6,740.1 1943.8,825.2 1961.9,904.5 1979.6,985.9 1993.0,1042.5 2007.9,1103.7 2027.3,1172.6 2040.8,1211.6 2060.9,1255.8 2076.1,1271.7 2096.3,1269.9 2115.8,1246.9 2138.8,1186.8 2161.7,1103.7 2184.7,985.2 2207.8,851.7 2220.0,775.5" fill="none" stroke="#0072BD" stroke-width="8.6" stroke-linejoin="round"/>
<g fill="none" stroke="#0072BD" stroke-width="9.5" stroke-linejoin="miter" stroke-miterlimit="10">
<polygon points="205.0,335.2 215.5,349.5 205.0,363.8 194.5,349.5"/>
<polygon points="205.0,502.7 215.5,517.0 205.0,531.3 194.5,517.0"/>
<polygon points="214.9,601.8 225.4,616.1 214.9,630.4 204.4,616.1"/>
<polygon points="235.7,505.2 246.2,519.5 235.7,533.8 225.2,519.5"/>
<polygon points="256.3,369.1 266.8,383.4 256.3,397.7 245.8,383.4"/>
<polygon points="274.0,273.1 284.5,287.4 274.0,301.7 263.5,287.4"/>
<polygon points="290.0,197.0 300.5,211.3 290.0,225.6 279.5,211.3"/>
<polygon points="308.6,126.1 319.1,140.4 308.6,154.7 298.1,140.4"/>
<polygon points="325.5,81.0 336.0,95.3 325.5,109.6 315.0,95.3"/>
<polygon points="347.2,48.7 357.7,63.0 347.2,77.3 336.7,63.0"/>
<polygon points="368.5,46.8 379.0,61.1 368.5,75.4 358.0,61.1"/>
<polygon points="391.0,73.0 401.5,87.3 391.0,101.6 380.5,87.3"/>
<polygon points="414.5,126.1 425.0,140.4 414.5,154.7 404.0,140.4"/>
<polygon points="438.0,199.3 448.5,213.6 438.0,227.9 427.5,213.6"/>
<polygon points="461.0,291.3 471.5,305.6 461.0,319.9 450.5,305.6"/>
<polygon points="485.0,392.6 495.5,406.9 485.0,421.2 474.5,406.9"/>
<polygon points="505.8,480.3 516.3,494.6 505.8,508.9 495.3,494.6"/>
<polygon points="527.2,568.9 537.7,583.2 527.2,597.5 516.7,583.2"/>
<polygon points="547.7,640.3 558.2,654.6 547.7,668.9 537.2,654.6"/>
<polygon points="566.9,696.6 577.4,710.9 566.9,725.2 556.4,710.9"/>
<polygon points="586.2,739.1 596.7,753.4 586.2,767.7 575.7,753.4"/>
<polygon points="596.9,761.7 607.4,776.0 596.9,790.3 586.4,776.0"/>
<polygon points="617.6,776.3 628.1,790.6 617.6,804.9 607.1,790.6"/>
<polygon points="636.7,776.3 647.2,790.6 636.7,804.9 626.2,790.6"/>
<polygon points="658.0,759.8 668.5,774.1 658.0,788.4 647.5,774.1"/>
<polygon points="679.7,728.5 690.2,742.8 679.7,757.1 669.2,742.8"/>
<polygon points="701.8,684.7 712.3,699.0 701.8,713.3 691.3,699.0"/>
<polygon points="721.7,641.6 732.2,655.9 721.7,670.2 711.2,655.9"/>
<polygon points="741.6,599.7 752.1,614.0 741.6,628.3 731.1,614.0"/>
<polygon points="760.2,565.1 770.7,579.4 760.2,593.7 749.7,579.4"/>
<polygon points="773.5,542.6 784.0,556.9 773.5,571.2 763.0,556.9"/>
<polygon points="788.9,525.3 799.4,539.6 788.9,553.9 778.4,539.6"/>
<polygon points="806.7,517.3 817.2,531.6 806.7,545.9 796.2,531.6"/>
<polygon points="826.1,522.6 836.6,536.9 826.1,551.2 815.6,536.9"/>
<polygon points="845.2,541.2 855.7,555.5 845.2,569.8 834.7,555.5"/>
<polygon points="867.0,587.2 877.5,601.5 867.0,615.8 856.5,601.5"/>
<polygon points="887.7,645.6 898.2,659.9 887.7,674.2 877.2,659.9"/>
<polygon points="907.6,715.7 918.1,730.0 907.6,744.3 897.1,730.0"/>
<polygon points="928.0,799.5 938.5,813.8 928.0,828.1 917.5,813.8"/>
<polygon points="948.0,887.2 958.5,901.5 948.0,915.8 937.5,901.5"/>
<polygon points="965.0,964.6 975.5,978.9 965.0,993.2 954.5,978.9"/>
<polygon points="979.6,1026.5 990.1,1040.8 979.6,1055.1 969.1,1040.8"/>
<polygon points="994.7,1090.2 1005.2,1104.5 994.7,1118.8 984.2,1104.5"/>
<polygon points="1014.1,1161.9 1024.6,1176.2 1014.1,1190.5 1003.6,1176.2"/>
<polygon points="1033.5,1213.7 1044.0,1228.0 1033.5,1242.3 1023.0,1228.0"/>
<polygon points="1050.0,1245.6 1060.5,1259.9 1050.0,1274.2 1039.5,1259.9"/>
<polygon points="1065.9,1258.9 1076.4,1273.2 1065.9,1287.5 1055.4,1273.2"/>
<polygon points="1078.7,1258.9 1089.2,1273.2 1078.7,1287.5 1068.2,1273.2"/>
<polygon points="1101.8,1235.8 1112.3,1250.1 1101.8,1264.4 1091.3,1250.1"/>
<polygon points="1115.9,1203.1 1126.4,1217.4 1115.9,1231.7 1105.4,1217.4"/>
<polygon points="1136.3,1137.2 1146.8,1151.5 1136.3,1165.8 1125.8,1151.5"/>
<polygon points="1163.7,1015.3 1174.2,1029.6 1163.7,1043.9 1153.2,1029.6"/>
<polygon points="1186.0,890.5 1196.5,904.8 1186.0,919.1 1175.5,904.8"/>
<polygon points="1210.2,739.0 1220.7,753.3 1210.2,767.6 1199.7,753.3"/>
<polygon points="1232.8,598.8 1243.3,613.1 1232.8,627.4 1222.3,613.1"/>
<polygon points="1256.2,450.9 1266.7,465.2 1256.2,479.5 1245.7,465.2"/>
<polygon points="1274.0,347.7 1284.5,362.0 1274.0,376.3 1263.5,362.0"/>
<polygon points="1296.0,233.7 1306.5,248.0 1296.0,262.3 1285.5,248.0"/>
<polygon points="1320.0,131.2 1330.5,145.5 1320.0,159.8 1309.5,145.5"/>
<polygon points="1334.6,86.1 1345.1,100.4 1334.6,114.7 1324.1,100.4"/>
<polygon points="1355.8,51.6 1366.3,65.9 1355.8,80.2 1345.3,65.9"/>
<polygon points="1381.1,46.2 1391.6,60.5 1381.1,74.8 1370.6,60.5"/>
<polygon points="1406.3,73.6 1416.8,87.9 1406.3,102.2 1395.8,87.9"/>
<polygon points="1431.0,133.9 1441.5,148.2 1431.0,162.5 1420.5,148.2"/>
<polygon points="1454.1,211.7 1464.6,226.0 1454.1,240.3 1443.6,226.0"/>
<polygon points="1478.0,307.9 1488.5,322.2 1478.0,336.5 1467.5,322.2"/>
<polygon points="1499.5,399.7 1510.0,414.0 1499.5,428.3 1489.0,414.0"/>
<polygon points="1523.6,499.2 1534.1,513.5 1523.6,527.8 1513.1,513.5"/>
<polygon points="1546.2,589.0 1556.7,603.3 1546.2,617.6 1535.7,603.3"/>
<polygon points="1568.0,662.8 1578.5,677.1 1568.0,691.4 1557.5,677.1"/>
<polygon points="1588.2,717.0 1598.7,731.3 1588.2,745.6 1577.7,731.3"/>
<polygon points="1604.6,748.3 1615.1,762.6 1604.6,776.9 1594.1,762.6"/>
<polygon points="1620.6,769.6 1631.1,783.9 1620.6,798.2 1610.1,783.9"/>
<polygon points="1639.2,777.5 1649.7,791.8 1639.2,806.1 1628.7,791.8"/>
<polygon points="1659.2,771.7 1669.7,786.0 1659.2,800.3 1648.7,786.0"/>
<polygon points="1679.1,750.3 1689.6,764.6 1679.1,778.9 1668.6,764.6"/>
<polygon points="1697.5,716.9 1708.0,731.2 1697.5,745.5 1687.0,731.2"/>
<polygon points="1719.1,675.4 1729.6,689.7 1719.1,704.0 1708.6,689.7"/>
<polygon points="1738.2,634.2 1748.7,648.5 1738.2,662.8 1727.7,648.5"/>
<polygon points="1756.8,593.6 1767.3,607.9 1756.8,622.2 1746.3,607.9"/>
<polygon points="1774.3,561.2 1784.8,575.5 1774.3,589.8 1763.8,575.5"/>
<polygon points="1788.1,539.9 1798.6,554.2 1788.1,568.5 1777.6,554.2"/>
<polygon points="1802.7,525.3 1813.2,539.6 1802.7,553.9 1792.2,539.6"/>
<polygon points="1820.0,518.1 1830.5,532.4 1820.0,546.7 1809.5,532.4"/>
<polygon points="1839.9,522.6 1850.4,536.9 1839.9,551.2 1829.4,536.9"/>
<polygon points="1859.8,543.9 1870.3,558.2 1859.8,572.5 1849.3,558.2"/>
<polygon points="1881.9,590.4 1892.4,604.7 1881.9,619.0 1871.4,604.7"/>
<polygon points="1902.3,650.1 1912.8,664.4 1902.3,678.7 1891.8,664.4"/>
<polygon points="1923.6,725.8 1934.1,740.1 1923.6,754.4 1913.1,740.1"/>
<polygon points="1943.8,810.9 1954.3,825.2 1943.8,839.5 1933.3,825.2"/>
<polygon points="1961.9,890.2 1972.4,904.5 1961.9,918.8 1951.4,904.5"/>
<polygon points="1979.6,971.6 1990.1,985.9 1979.6,1000.2 1969.1,985.9"/>
<polygon points="1993.0,1028.2 2003.5,1042.5 1993.0,1056.8 1982.5,1042.5"/>
<polygon points="2007.9,1089.4 2018.4,1103.7 2007.9,1118.0 1997.4,1103.7"/>
<polygon points="2027.3,1158.3 2037.8,1172.6 2027.3,1186.9 2016.8,1172.6"/>
<polygon points="2040.8,1197.3 2051.3,1211.6 2040.8,1225.9 2030.3,1211.6"/>
<polygon points="2060.9,1241.5 2071.4,1255.8 2060.9,1270.1 2050.4,1255.8"/>
<polygon points="2076.1,1257.4 2086.6,1271.7 2076.1,1286.0 2065.6,1271.7"/>
<polygon points="2096.3,1255.6 2106.8,1269.9 2096.3,1284.2 2085.8,1269.9"/>
<polygon points="2115.8,1232.6 2126.3,1246.9 2115.8,1261.2 2105.3,1246.9"/>
<polygon points="2138.8,1172.5 2149.3,1186.8 2138.8,1201.1 2128.3,1186.8"/>
<polygon points="2161.7,1089.4 2172.2,1103.7 2161.7,1118.0 2151.2,1103.7"/>
<polygon points="2184.7,970.9 2195.2,985.2 2184.7,999.5 2174.2,985.2"/>
<polygon points="2207.8,837.4 2218.3,851.7 2207.8,866.0 2197.3,851.7"/>
</g>
<rect x="379" y="147.1" width="965.1" height="215" fill="#fff" stroke="#262626" stroke-width="2" shape-rendering="crispEdges"/>
<path d="M390 186.1H507" stroke="#000" stroke-width="8.6"/>
<path d="M390 254.3H507" stroke="#FF0000" stroke-width="8.6"/><circle cx="448.5" cy="254.3" r="11.6" fill="#FF0000"/>
<path d="M390 322.5H507" stroke="#0072BD" stroke-width="8.6"/><g fill="none" stroke="#0072BD" stroke-width="9.5" stroke-miterlimit="10"><polygon points="448.5,308.2 459.0,322.5 448.5,336.8 438.0,322.5"/></g>
<g font-size="56.25" fill="#000" stroke="#000" stroke-width="0.6">
<text transform="translate(517.7,199.8) scale(1.06,1)" font-style="italic" textLength="443.4" lengthAdjust="spacing">Desired trajectory</text>
<text x="516.4" y="267.3" font-style="italic" textLength="155" lengthAdjust="spacingAndGlyphs">output</text>
<text x="516.4" y="335.9" font-style="italic" textLength="155" lengthAdjust="spacingAndGlyphs">output</text>
<text x="695.5" y="267.3" textLength="517" lengthAdjust="spacingAndGlyphs">(Proposed controller)</text>
<text x="695.5" y="335.9" textLength="638.7" lengthAdjust="spacingAndGlyphs">(Existing fuzzy controller)</text>
</g>
<g font-size="62.5" fill="#262626">
<text x="203.3" y="1364.5" text-anchor="middle">0</text>
<text x="605.4" y="1364.5" text-anchor="middle">5</text>
<text x="1009.8" y="1364.5" text-anchor="middle">10</text>
<text x="1413.6" y="1364.5" text-anchor="middle">15</text>
<text x="1814.8" y="1364.5" text-anchor="middle">20</text>
<text x="2217.0" y="1364.5" text-anchor="middle">25</text>
<text x="182" y="1308.5" text-anchor="end">-1</text>
<text x="182" y="1183.4" text-anchor="end">-0.8</text>
<text x="182" y="1058.3" text-anchor="end">-0.6</text>
<text x="182" y="933.2" text-anchor="end">-0.4</text>
<text x="182" y="808.1" text-anchor="end">-0.2</text>
<text x="182" y="683.0" text-anchor="end">0</text>
<text x="182" y="557.9" text-anchor="end">0.2</text>
<text x="182" y="432.8" text-anchor="end">0.4</text>
<text x="182" y="307.7" text-anchor="end">0.6</text>
<text x="182" y="182.6" text-anchor="end">0.8</text>
<text x="182" y="57.5" text-anchor="end">1</text>
<text x="1212" y="1440.8" text-anchor="middle">Time(s)</text>
<text transform="translate(59,661.2) rotate(-90)" text-anchor="middle">System tracking comparison</text>
</g>
</svg></body></html>
